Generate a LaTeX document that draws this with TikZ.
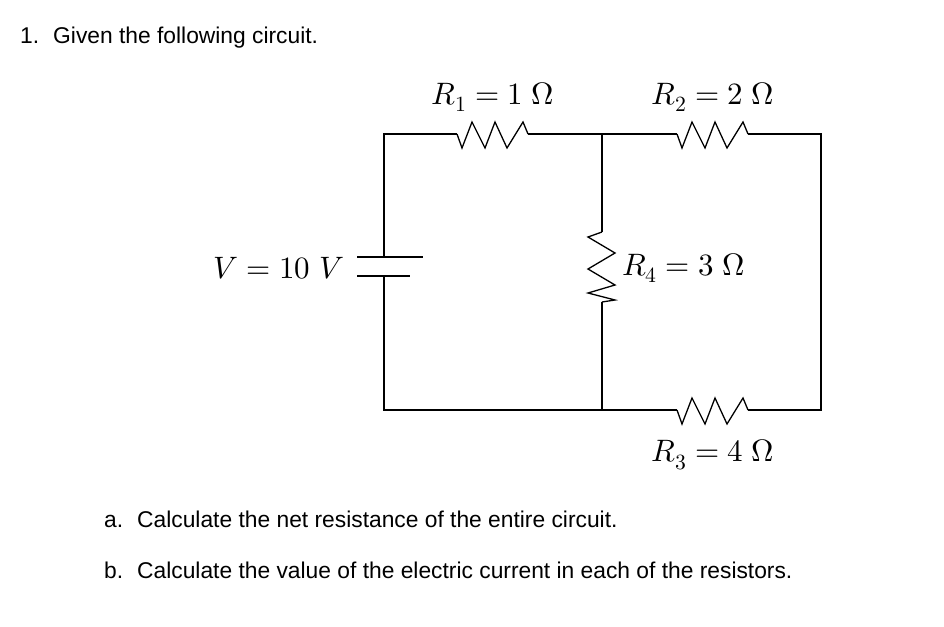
\documentclass[tikz,border=0pt]{standalone}
\usepackage{fontspec}
\setmainfont{Liberation Sans}
\usepackage{unicode-math}
\setmathfont{Latin Modern Math}
\begin{document}
\begin{tikzpicture}[x=1pt,y=-1pt,
 wire/.style={line width=1.3pt},
 txt/.style={anchor=base west,inner sep=0,font=\fontsize{22.8}{26}\selectfont},
 lab/.style={inner sep=0,font=\fontsize{31}{35}\selectfont}]
\useasboundingbox (0,0) rectangle (944,626);
\node[txt] (t) at (20,44) {1.\hspace{14pt}Given the following circuit.};
\node[txt] (qa) at (104,527) {a.\hspace{14pt}Calculate the net resistance of the entire circuit.};
\node[txt] (qb) at (104,578) {b.\hspace{14pt}Calculate the value of the electric current in each of the resistors.};
% corners
\coordinate (tl) at (384,134); \coordinate (tm) at (602,134); \coordinate (tr) at (821,134);
\coordinate (bl) at (384,410); \coordinate (bm) at (602,410); \coordinate (br) at (821,410);
% resistors horizontal
\newcommand{\hres}[3]{\coordinate (#1a) at (#2,#3); \coordinate (#1b) at (#2+71,#3);
 \draw[wire,line join=miter] (#1a) -- ++(5,14) -- ++(10,-26) -- ++(13,26) -- ++(10,-26) -- ++(12,26) -- ++(16,-26) -- (#1b);}
\hres{ra}{457}{134}
\hres{rb}{677}{134}
\hres{rc}{677}{410}
% R4 vertical
\coordinate (rda) at (602,232); \coordinate (rdb) at (602,302);
\draw[wire] (rda) -- (588,237) -- (615,253) -- (588,269) -- (615,285) -- (588,293) -- (615,300) -- (rdb);
% battery
\coordinate (bta) at (384,257); \coordinate (btb) at (384,276);
\draw[wire] (357,257) -- (423,257);
\draw[wire] (357,276) -- (410,276);
% wires
\draw[wire] (bta) -- (tl) -- (raa);
\draw[wire] (rab) -- (tm) -- (rba);
\draw[wire] (rbb) -- (tr) -- (br) -- (rcb);
\draw[wire] (rca) -- (bm) -- (bl) -- (btb);
\draw[wire] (tm) -- (rda);
\draw[wire] (rdb) -- (bm);
% labels
\node[lab] (l1) at (493,97) {$R_1=1\ \Omega$};
\node[lab] (l2) at (713,97) {$R_2=2\ \Omega$};
\node[lab,anchor=west] (l4) at (622,268) {$R_4=3\ \Omega$};
\node[lab,anchor=east] (lv) at (344,268) {$V=10\ V$};
\node[lab] (l3) at (713,455) {$R_3=4\ \Omega$};
\end{tikzpicture}
\end{document}
